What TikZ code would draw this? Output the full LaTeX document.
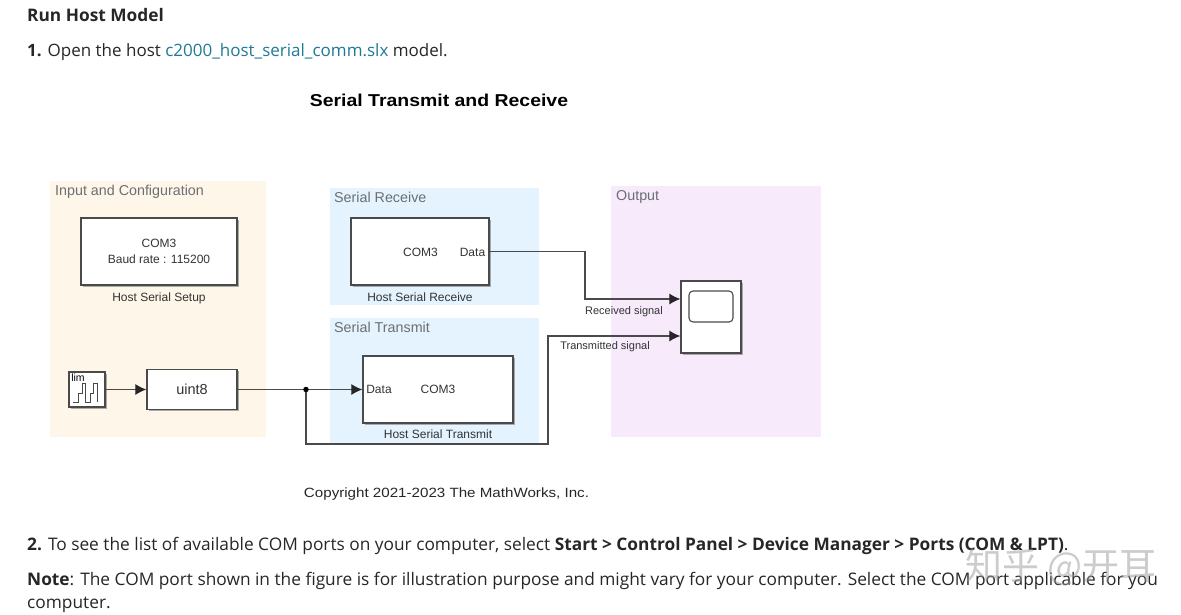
\documentclass[tikz,border=0pt]{standalone}
\usepackage{xcolor}
\usepackage{fontspec}
\setmainfont{Open Sans}
\newfontfamily\arialfont{Liberation Sans}
\newfontfamily\widefont[FakeStretch=1.13]{Liberation Sans}
\newfontfamily\cjkfont{Noto Sans CJK SC}
\usetikzlibrary{arrows.meta,shadows}
\definecolor{inputbg}{HTML}{FEF6E8}
\definecolor{serialbg}{HTML}{E4F3FE}
\definecolor{outputbg}{HTML}{F6EAFB}
\definecolor{linkblue}{HTML}{1F7A96}
\definecolor{wire}{HTML}{4A4A4A}
\definecolor{grouptext}{HTML}{6B6F73}

\begin{document}
\begin{tikzpicture}[
    x=1pt, y=-1pt,
    page/.style={anchor=base west, inner sep=0pt, text=black!85, font=\fontsize{17.3}{20}\selectfont},
    region/.style={anchor=north west, inner sep=0pt},
    grouplabel/.style={anchor=base west, inner sep=0pt, text=grouptext, font=\arialfont\fontsize{14.3}{17}\selectfont},
    block/.style={draw=wire, line width=1.3pt, fill=white, inner sep=0pt, align=center, text=black!80,
        drop shadow={shadow xshift=1.8pt, shadow yshift=-1.8pt, fill=black!45, opacity=0.7},
        font=\arialfont\fontsize{12}{15.5}\selectfont},
    caption/.style={anchor=base, inner sep=0pt, text=black!80, font=\arialfont\fontsize{12}{14}\selectfont},
    inner/.style={inner sep=0pt, text=black!80, font=\arialfont\fontsize{12}{15}\selectfont},
    signal/.style={draw=wire, line width=1.1pt},
    tip/.style={signal, -{Latex[length=11pt,width=11pt,color=black!85]}}
]
\useasboundingbox (0,0) rectangle (1181,614);

% Page text
\node[page] (heading) at (27,21) {\textbf{Run Host Model}};
\node[page, font=\fontsize{17}{20}\selectfont] (stepone) at (27,56) {\textbf{1.} Open the host \textcolor{linkblue}{c2000\_host\_serial\_comm.slx} model.};
\node[page] (steptwo) at (27,550) {\textbf{2.} To see the list of available COM ports on your computer, select \textbf{Start > Control Panel > Device Manager > Ports (COM \& LPT)}.};
\node[page] (note) at (27,585) {\textbf{Note}: The COM port shown in the figure is for illustration purpose and might vary for your computer. Select the COM port applicable for you};
\node[page] (notetail) at (27,608) {computer.};

% Title and copyright
\node[inner sep=0pt, font=\widefont\bfseries\fontsize{17.2}{20}\selectfont] (title) at (439,100) {Serial Transmit and Receive};
\node[inner sep=0pt, text=black!85, font=\widefont\fontsize{13.4}{16}\selectfont] (copyright) at (446.5,494) {Copyright 2021-2023 The MathWorks, Inc.};

% Regions
\node[region, fill=inputbg, minimum width=216pt, minimum height=256pt] (inputarea) at (50,181) {};
\node[region, fill=serialbg, minimum width=209pt, minimum height=117pt] (recvarea) at (330,188) {};
\node[region, fill=serialbg, minimum width=209pt, minimum height=126pt] (sendarea) at (330,318) {};
\node[region, fill=outputbg, minimum width=210pt, minimum height=251pt] (outarea) at (611,186) {};
\node[grouplabel] (inputlabel) at (55,195) {Input and Configuration};
\node[grouplabel] (recvlabel) at (334,202) {Serial Receive};
\node[grouplabel] (sendlabel) at (334,332) {Serial Transmit};
\node[grouplabel] (outlabel) at (616,200) {Output};

% Blocks
\node[block, minimum width=156pt, minimum height=67pt] (setup) at (159,251.5) {COM3\\Baud rate : 115200};
\node[block, minimum width=138pt, minimum height=67pt] (recv) at (420,251.5) {};
\node[block, minimum width=150pt, minimum height=67pt] (send) at (438,389.5) {};
\node[block, minimum width=90pt, minimum height=40pt, font=\arialfont\fontsize{14.5}{17}\selectfont] (conv) at (192,389.5) {uint8};
\node[block, minimum width=36pt, minimum height=35pt] (source) at (87,389.5) {};
\node[block, minimum width=60pt, minimum height=72pt] (scope) at (711,317) {};
\node[draw=wire, line width=1.1pt, rounded corners=4pt, minimum width=44pt, minimum height=31pt, inner sep=0pt] (screen) at (711,306.5) {};

% Block texts
\node[caption] (setupname) at (159,301) {Host Serial Setup};
\node[caption] (recvname) at (420,301) {Host Serial Receive};
\node[caption] (sendname) at (438,438) {Host Serial Transmit};
\node[inner] (recvcom) at (420.5,252) {COM3};
\node[inner] (recvdata) at (472.5,252) {Data};
\node[inner] (senddata) at (379,389) {Data};
\node[inner] (sendcom) at (438,389) {COM3};
\node[caption, font=\arialfont\fontsize{11}{13}\selectfont] (recvsig) at (624,314) {Received signal};
\node[caption, font=\arialfont\fontsize{11}{13}\selectfont] (sendsig) at (605,349) {Transmitted signal};

% Source icon
\node[inner sep=0pt, font=\arialfont\fontsize{10.5}{11}\selectfont] (lim) at (78,378) {lim};
\draw[wire, line width=0.9pt] (73,402) -- (78,402) -- (78,393) -- (82,393) -- (82,383) -- (85,383) -- (85,402)
    -- (90,402) -- (90,393) -- (93,393) -- (93,383) -- (97,383) -- (97,402);

% Wires
\coordinate (scopein1) at (scope.west |- 0,299);
\coordinate (scopein2) at (scope.west |- 0,336);
\coordinate (bend1) at (585,0);
\coordinate (branch) at (306,0);
\coordinate (bottom) at (0,444);
\coordinate (riser) at (548,0);
\draw[tip] (source) -- (conv);
\draw[tip] (conv.east) -- (send.west);
\draw[tip] (recv.east) -| (bend1 |- scopein1) -- (scopein1);
\draw[tip] (branch |- conv.east) -- (branch |- bottom) -- (riser |- bottom) -- (riser |- scopein2) -- (scopein2);
\node[circle, fill=black, minimum size=5.5pt, inner sep=0pt] (joint) at (branch |- conv.east) {};

% Watermark
\node[inner sep=0pt, text=black!40, opacity=0.5, font=\cjkfont\fontsize{37}{40}\selectfont] (mark) at (1061,567) {知乎 @开耳};
\end{tikzpicture}
\end{document}
